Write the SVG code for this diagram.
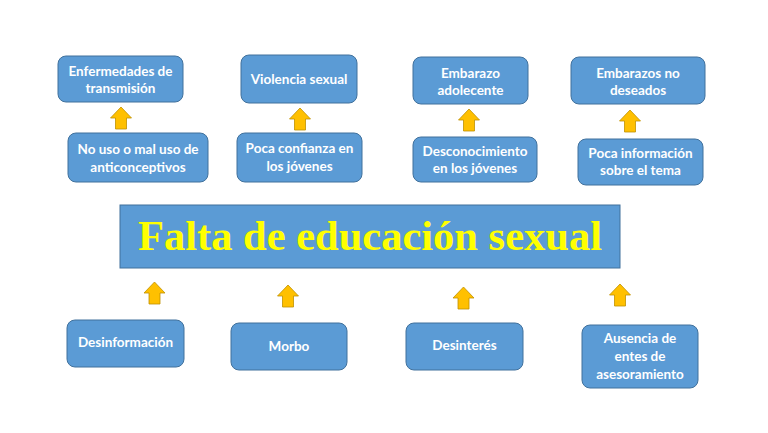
<svg xmlns="http://www.w3.org/2000/svg" xmlns:xlink="http://www.w3.org/1999/xlink" width="768" height="433" viewBox="0 0 768 433">
<style>
.box{fill:#5B9BD5;stroke:#41719C;stroke-width:1}
.t{font-family:Lato,"Open Sans","Liberation Sans",sans-serif;font-weight:bold;font-size:13.5px;fill:#FFFFFF;text-anchor:middle}
.main{font-family:"Liberation Serif","Times New Roman",serif;font-weight:bold;font-size:42.5px;fill:#FFFF00;text-anchor:middle}
.arr{fill:#FFC000;stroke:#BF9000;stroke-width:0.8}
</style>
<defs>
<path id="up" d="M0,0 L10.5,11 L5.5,11 L5.5,22 L-5.5,22 L-5.5,11 L-10.5,11 Z"/>
</defs>
<rect width="768" height="433" fill="#FFFFFF"/>
<g id="connectors">
<use xlink:href="#up" class="arr" transform="translate(121,107)"/>
<use xlink:href="#up" class="arr" transform="translate(300,108)"/>
<use xlink:href="#up" class="arr" transform="translate(469,109)"/>
<use xlink:href="#up" class="arr" transform="translate(630,110)"/>
<use xlink:href="#up" class="arr" transform="translate(154.5,282)"/>
<use xlink:href="#up" class="arr" transform="translate(288,285)"/>
<use xlink:href="#up" class="arr" transform="translate(463.5,287)"/>
<use xlink:href="#up" class="arr" transform="translate(620,284)"/>
</g>
<g id="n1"><rect class="box" x="58" y="56" width="125" height="46" rx="8"/><text class="t" x="120.5" y="76">Enfermedades de</text><text class="t" x="120.5" y="93">transmisión</text></g>
<g id="n2"><rect class="box" x="241" y="55" width="116" height="48" rx="8"/><text class="t" x="299" y="84">Violencia sexual</text></g>
<g id="n3"><rect class="box" x="413" y="57" width="115" height="47" rx="8"/><text class="t" x="470.5" y="78">Embarazo</text><text class="t" x="470.5" y="95">adolecente</text></g>
<g id="n4"><rect class="box" x="571" y="57" width="134" height="47" rx="8"/><text class="t" x="638" y="78">Embarazos no</text><text class="t" x="638" y="95">deseados</text></g>
<g id="n5"><rect class="box" x="68" y="133" width="140" height="49" rx="8"/><text class="t" x="138" y="154">No uso o mal uso de</text><text class="t" x="138" y="172">anticonceptivos</text></g>
<g id="n6"><rect class="box" x="237" y="133" width="125" height="49" rx="8"/><text class="t" x="299.5" y="153">Poca confianza en</text><text class="t" x="299.5" y="171">los jóvenes</text></g>
<g id="n7"><rect class="box" x="413" y="137" width="124" height="45" rx="8"/><text class="t" x="475" y="156">Desconocimiento</text><text class="t" x="475" y="173">en los jóvenes</text></g>
<g id="n8"><rect class="box" x="578" y="139" width="125" height="46" rx="8"/><text class="t" x="640.5" y="158">Poca información</text><text class="t" x="640.5" y="175">sobre el tema</text></g>
<g id="main"><rect x="120" y="205" width="500" height="63" fill="#5B9BD5" stroke="#41719C" stroke-width="1"/><text class="main" x="370" y="250">Falta de educación sexual</text></g>
<g id="n9"><rect class="box" x="67" y="320" width="117" height="47" rx="8"/><text class="t" x="125.5" y="347">Desinformación</text></g>
<g id="n10"><rect class="box" x="231" y="323" width="116" height="47" rx="8"/><text class="t" x="289" y="351">Morbo</text></g>
<g id="n11"><rect class="box" x="406" y="323" width="117" height="47" rx="8"/><text class="t" x="464.5" y="350">Desinterés</text></g>
<g id="n12"><rect class="box" x="582" y="325" width="116" height="63" rx="8"/><text class="t" x="640" y="343">Ausencia de</text><text class="t" x="640" y="361">entes de</text><text class="t" x="640" y="379">asesoramiento</text></g>
</svg>
